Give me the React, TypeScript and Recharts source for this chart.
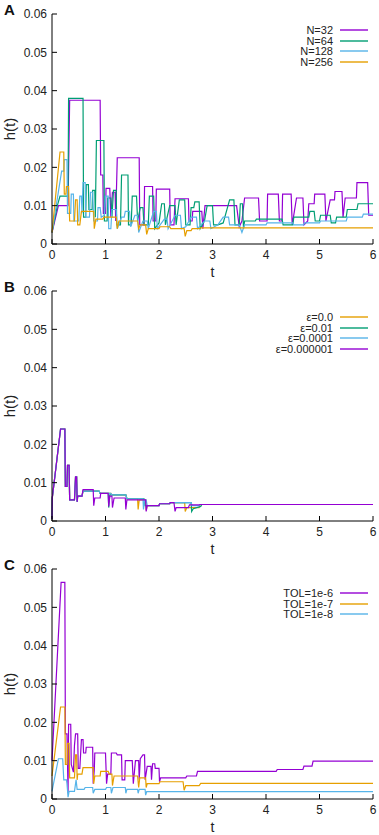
import React from "react";
import { LineChart, Line, XAxis, YAxis } from "recharts";

type Pt = [number, number];

const xTicks = [0, 1, 2, 3, 4, 5, 6];
const yTicks = [0, 0.01, 0.02, 0.03, 0.04, 0.05, 0.06];

// panel A: grid size N
const nLabels = ["N=32", "N=64", "N=128", "N=256"];
const n32: Pt[] = [
  [0, 0.003], [0.12, 0.01], [0.3, 0.01], [0.33, 0.0375], [0.9, 0.0375], [0.91, 0.018], [0.95, 0.018],
  [0.96, 0.008], [1.0, 0.008], [1.01, 0.0145], [1.08, 0.0145], [1.1, 0.007], [1.13, 0.0135], [1.18, 0.0135],
  [1.19, 0.006], [1.22, 0.0225], [1.63, 0.0225], [1.64, 0.005], [1.72, 0.005], [1.73, 0.015], [1.88, 0.015],
  [1.89, 0.006], [1.94, 0.006], [1.95, 0.0143], [2.2, 0.0143], [2.21, 0.005], [2.28, 0.005], [2.3, 0.0118],
  [2.55, 0.0118], [2.56, 0.006], [2.62, 0.006], [2.63, 0.0085], [2.8, 0.0085], [2.82, 0.004], [2.86, 0.01],
  [3.45, 0.01], [3.5, 0.0045], [3.55, 0.006], [3.6, 0.012], [3.86, 0.012], [3.88, 0.006], [4.02, 0.006],
  [4.03, 0.013], [4.23, 0.013], [4.25, 0.006], [4.3, 0.006], [4.31, 0.013], [4.47, 0.013], [4.49, 0.005],
  [4.57, 0.012], [4.69, 0.012], [4.71, 0.005], [4.78, 0.006], [4.8, 0.0105], [4.9, 0.0105], [4.91, 0.013],
  [5.1, 0.013], [5.12, 0.006], [5.2, 0.0115], [5.28, 0.0115], [5.29, 0.0137], [5.42, 0.0137], [5.44, 0.007],
  [5.48, 0.012], [5.69, 0.012], [5.7, 0.016], [5.9, 0.016], [5.92, 0.0075], [6, 0.0075],
];
const n64: Pt[] = [
  [0, 0.003], [0.1, 0.01], [0.15, 0.0125], [0.3, 0.0125], [0.31, 0.038], [0.58, 0.038], [0.59, 0.007],
  [0.63, 0.007], [0.64, 0.0155], [0.68, 0.0155], [0.69, 0.009], [0.75, 0.009], [0.76, 0.014], [0.8, 0.014],
  [0.81, 0.007], [0.83, 0.027], [0.97, 0.027], [0.98, 0.006], [1.03, 0.006], [1.04, 0.012], [1.1, 0.012],
  [1.12, 0.007], [1.15, 0.014], [1.2, 0.014], [1.21, 0.005], [1.28, 0.005], [1.3, 0.018], [1.42, 0.018],
  [1.43, 0.005], [1.48, 0.005], [1.5, 0.0125], [1.58, 0.0125], [1.6, 0.006], [1.65, 0.0095], [1.7, 0.0095],
  [1.72, 0.005], [1.8, 0.005], [1.82, 0.0125], [1.9, 0.0125], [1.92, 0.004], [2.0, 0.0055], [2.05, 0.0105],
  [2.1, 0.0105], [2.12, 0.005], [2.2, 0.01], [2.3, 0.01], [2.32, 0.005], [2.38, 0.0115], [2.48, 0.0115],
  [2.5, 0.005], [2.58, 0.005], [2.6, 0.0095], [2.65, 0.0095], [2.67, 0.011], [2.75, 0.011], [2.77, 0.004],
  [2.85, 0.006], [2.9, 0.01], [3.0, 0.01], [3.02, 0.005], [3.1, 0.005], [3.2, 0.0055], [3.32, 0.0115],
  [3.4, 0.0115], [3.42, 0.005], [3.5, 0.005], [3.52, 0.0105], [3.56, 0.0105], [3.58, 0.004], [3.6, 0.006],
  [3.8, 0.006], [3.82, 0.0065], [4.3, 0.0065], [4.32, 0.005], [4.5, 0.005], [4.52, 0.007], [4.8, 0.007],
  [4.82, 0.0085], [4.9, 0.0085], [4.92, 0.006], [5.0, 0.006], [5.02, 0.0075], [5.2, 0.0075], [5.22, 0.0055],
  [5.3, 0.0055], [5.32, 0.007], [5.5, 0.007], [5.52, 0.009], [5.7, 0.009], [5.72, 0.0105], [6, 0.0105],
];
const n128: Pt[] = [
  [0, 0.003], [0.18, 0.019], [0.22, 0.019], [0.23, 0.022], [0.28, 0.022], [0.29, 0.008], [0.35, 0.008],
  [0.36, 0.013], [0.4, 0.013], [0.41, 0.006], [0.5, 0.006], [0.52, 0.0125], [0.55, 0.0125], [0.56, 0.008],
  [0.58, 0.016], [0.62, 0.016], [0.63, 0.007], [0.7, 0.007], [0.72, 0.0135], [0.76, 0.0135], [0.78, 0.006],
  [0.85, 0.006], [0.86, 0.0095], [0.9, 0.0095], [0.92, 0.007], [0.98, 0.0075], [1.0, 0.0125], [1.05, 0.0125],
  [1.06, 0.004], [1.1, 0.004], [1.12, 0.009], [1.2, 0.009], [1.22, 0.004], [1.3, 0.007], [1.35, 0.007],
  [1.37, 0.0085], [1.45, 0.0085], [1.47, 0.0045], [1.55, 0.0075], [1.6, 0.0075], [1.62, 0.003], [1.7, 0.006],
  [1.78, 0.006], [1.8, 0.004], [1.9, 0.0085], [1.95, 0.0085], [1.97, 0.004], [2.1, 0.0065], [2.15, 0.0065],
  [2.17, 0.004], [2.3, 0.0075], [2.4, 0.0075], [2.42, 0.004], [2.5, 0.0045], [2.6, 0.007], [2.7, 0.007],
  [2.72, 0.004], [2.85, 0.006], [2.95, 0.006], [2.97, 0.004], [3.1, 0.005], [3.2, 0.007], [3.3, 0.007],
  [3.32, 0.005], [3.5, 0.005], [3.55, 0.003], [3.6, 0.005], [4.0, 0.005], [4.02, 0.0055], [4.5, 0.0055],
  [4.52, 0.005], [4.7, 0.005], [4.72, 0.0055], [5.0, 0.0055], [5.02, 0.006], [5.5, 0.006], [5.52, 0.007],
  [5.8, 0.007], [5.82, 0.0078], [6, 0.0078],
];
const n256: Pt[] = [
  [0, 0.003], [0.15, 0.024], [0.22, 0.024], [0.23, 0.013], [0.26, 0.013], [0.27, 0.015], [0.31, 0.015],
  [0.33, 0.006], [0.42, 0.006], [0.44, 0.0115], [0.47, 0.0115], [0.48, 0.005], [0.52, 0.005], [0.55, 0.0085],
  [0.78, 0.0085], [0.79, 0.004], [0.82, 0.0065], [0.95, 0.0065], [0.97, 0.007], [1.2, 0.007], [1.22, 0.004],
  [1.25, 0.006], [1.6, 0.006], [1.62, 0.004], [1.65, 0.005], [1.75, 0.005], [1.77, 0.0025], [1.8, 0.004],
  [2.0, 0.004], [2.02, 0.0045], [2.2, 0.0045], [2.22, 0.004], [2.47, 0.004], [2.49, 0.002], [2.52, 0.0035],
  [2.6, 0.0035], [2.62, 0.004], [2.75, 0.004], [2.78, 0.0042], [6, 0.0042],
];

// panel B: epsilon
const epsLabels = ["\u03b5=0.0", "\u03b5=0.01", "\u03b5=0.0001", "\u03b5=0.000001"];
const epsStart: Pt[] = [
  [0, 0.0005], [0.005, 0.006], [0.16, 0.024], [0.24, 0.024], [0.25, 0.009], [0.28, 0.009], [0.29, 0.0145],
  [0.32, 0.0145], [0.33, 0.0055], [0.42, 0.0055], [0.44, 0.0115], [0.46, 0.0115], [0.47, 0.005],
  [0.48, 0.0065], [0.56, 0.0065],
];
const eps0: Pt[] = [
  ...epsStart, [0.58, 0.0078], [0.88, 0.0078], [0.9, 0.0072], [1.1, 0.0072], [1.12, 0.0068], [1.38, 0.0068],
  [1.4, 0.0058], [1.6, 0.0058], [1.61, 0.003], [1.63, 0.0055], [1.75, 0.0055], [1.76, 0.0028], [1.78, 0.004],
  [2.0, 0.004], [2.01, 0.0045], [2.2, 0.0045], [2.21, 0.0048], [2.48, 0.0048], [2.49, 0.0025], [2.52, 0.0035],
  [2.75, 0.0035], [2.77, 0.0043], [6, 0.0043],
];
const eps2: Pt[] = [
  ...epsStart, [0.58, 0.0078], [0.88, 0.0078], [0.9, 0.0072], [1.05, 0.0072], [1.06, 0.0035], [1.08, 0.0068],
  [1.38, 0.0068], [1.4, 0.0058], [1.72, 0.0058], [1.74, 0.004], [2.0, 0.004], [2.01, 0.0045], [2.2, 0.0045],
  [2.21, 0.0048], [2.6, 0.0048], [2.61, 0.0025], [2.64, 0.0032], [2.78, 0.0038], [2.8, 0.0043], [6, 0.0043],
];
const eps4: Pt[] = [
  ...epsStart, [0.58, 0.0078], [0.88, 0.0078], [0.9, 0.0072], [1.1, 0.0072], [1.12, 0.0068], [1.38, 0.0068],
  [1.4, 0.0058], [1.7, 0.0058], [1.71, 0.003], [1.73, 0.0055], [1.76, 0.0055], [1.78, 0.004], [2.0, 0.004],
  [2.01, 0.0045], [2.2, 0.0045], [2.21, 0.0048], [2.6, 0.0048], [2.62, 0.004], [2.75, 0.004], [2.77, 0.0043],
  [6, 0.0043],
];
const eps6: Pt[] = [
  ...epsStart, [0.58, 0.0082], [0.77, 0.0082], [0.78, 0.004], [0.8, 0.006], [0.9, 0.006], [0.91, 0.0072],
  [1.05, 0.0072], [1.06, 0.0038], [1.08, 0.0065], [1.12, 0.0065], [1.13, 0.0035], [1.16, 0.006], [1.37, 0.006],
  [1.38, 0.003], [1.4, 0.0055], [1.75, 0.0055], [1.76, 0.0025], [1.78, 0.004], [2.0, 0.004], [2.01, 0.0045],
  [2.2, 0.0045], [2.21, 0.0048], [2.28, 0.0048], [2.3, 0.0025], [2.32, 0.0035], [2.55, 0.0035], [2.57, 0.0042],
  [2.75, 0.0042], [2.77, 0.0043], [6, 0.0043],
];

// panel C: tolerance
const tolLabels = ["TOL=1e-6", "TOL=1e-7", "TOL=1e-8"];
const tol6: Pt[] = [
  [0, 0.01], [0.17, 0.0565], [0.24, 0.0565], [0.25, 0.017], [0.28, 0.017], [0.3, 0.0015], [0.31, 0.0195],
  [0.35, 0.0195], [0.36, 0.009], [0.4, 0.007], [0.42, 0.014], [0.44, 0.017], [0.48, 0.017], [0.49, 0.008],
  [0.52, 0.008], [0.55, 0.0155], [0.58, 0.0155], [0.59, 0.012], [0.63, 0.012], [0.64, 0.0135], [0.76, 0.0135],
  [0.77, 0.004], [0.79, 0.0075], [0.8, 0.012], [1.0, 0.012], [1.02, 0.004], [1.04, 0.0065], [1.1, 0.0065],
  [1.11, 0.012], [1.2, 0.012], [1.22, 0.0115], [1.3, 0.0115], [1.31, 0.005], [1.36, 0.005], [1.37, 0.01],
  [1.5, 0.01], [1.52, 0.004], [1.56, 0.01], [1.62, 0.01], [1.63, 0.005], [1.65, 0.0105], [1.7, 0.0115],
  [1.73, 0.0115], [1.74, 0.005], [1.78, 0.0085], [1.85, 0.0085], [1.86, 0.005], [1.88, 0.0092], [1.92, 0.0092],
  [1.93, 0.008], [2.0, 0.008], [2.01, 0.0045], [2.03, 0.0055], [2.5, 0.0055], [2.52, 0.006], [2.7, 0.006],
  [2.72, 0.0072], [4.19, 0.0072], [4.21, 0.0077], [4.69, 0.0077], [4.71, 0.0086], [4.86, 0.0086],
  [4.88, 0.0099], [6, 0.0099],
];
const tol7: Pt[] = [
  [0, 0.006], [0.16, 0.024], [0.24, 0.024], [0.25, 0.009], [0.28, 0.009], [0.29, 0.0145], [0.32, 0.0145],
  [0.33, 0.0055], [0.42, 0.0055], [0.44, 0.0115], [0.46, 0.0115], [0.47, 0.005], [0.48, 0.0065], [0.56, 0.0065],
  [0.58, 0.0082], [0.77, 0.0082], [0.78, 0.004], [0.8, 0.006], [0.9, 0.006], [0.91, 0.0072], [1.05, 0.0072],
  [1.07, 0.0065], [1.12, 0.0065], [1.13, 0.0035], [1.16, 0.006], [1.6, 0.006], [1.62, 0.003], [1.64, 0.0055],
  [1.75, 0.0055], [1.76, 0.003], [1.78, 0.004], [2.0, 0.004], [2.02, 0.0045], [2.45, 0.0045], [2.47, 0.0023],
  [2.5, 0.0035], [2.75, 0.0035], [2.78, 0.0041], [6, 0.0041],
];
const tol8: Pt[] = [
  [0, 0.002], [0.12, 0.0105], [0.2, 0.0105], [0.22, 0.005], [0.27, 0.005], [0.28, 0.004], [0.3, 0.0005],
  [0.32, 0.002], [0.42, 0.002], [0.45, 0.005], [0.47, 0.0025], [0.6, 0.0025], [0.62, 0.003], [0.76, 0.003],
  [0.77, 0.0015], [0.8, 0.0025], [1.0, 0.0025], [1.02, 0.003], [1.1, 0.003], [1.11, 0.0015], [1.14, 0.003],
  [1.37, 0.003], [1.38, 0.0015], [1.4, 0.0025], [1.6, 0.0025], [1.61, 0.0015], [1.63, 0.0025], [1.74, 0.0025],
  [1.75, 0.001], [1.77, 0.0019], [6, 0.0019],
];

const PURPLE = "#9400d3";
const GREEN = "#009e73";
const BLUE = "#56b4e9";
const ORANGE = "#e69f00";
const FONT = '"Liberation Sans", Arial, Helvetica, sans-serif';

type Series = { name: string; color: string; points: Pt[] };

const toRows = (pts: Pt[]) => pts.map(([t, h]) => ({ t, h }));

function Panel({
  letter,
  top,
  series,
  legendTop,
}: {
  letter: string;
  top: number;
  series: Series[];
  legendTop: number;
}) {
  return (
    <div style={{ position: "absolute", left: 0, top, width: 379, height: 280 }}>
      <LineChart width={379} height={280} margin={{ top: 14, right: 6, bottom: 6, left: 0 }}>
        <XAxis
          xAxisId="b"
          dataKey="t"
          type="number"
          domain={[0, 6]}
          ticks={xTicks}
          height={30}
          stroke="#000"
          tickSize={-5}
          tickMargin={11}
          tick={{ fill: "#222", fontSize: 12, fontFamily: FONT }}
          label={({ viewBox }: any) => (
            <text
              x={viewBox.x + viewBox.width / 2}
              y={viewBox.y + 33}
              textAnchor="middle"
              fontSize={14}
              fontFamily={FONT}
              fill="#222"
            >
              t
            </text>
          )}
        />
        <XAxis
          xAxisId="top"
          orientation="top"
          type="number"
          domain={[0, 6]}
          ticks={xTicks}
          height={0}
          stroke="#000"
          tickSize={-5}
          tick={false}
        />
        <YAxis
          yAxisId="l"
          type="number"
          domain={[0, 0.06]}
          ticks={yTicks}
          width={52}
          stroke="#000"
          tickSize={-5}
          tickMargin={10}
          tickFormatter={(v: number) => (v === 0 ? "0" : v.toFixed(2))}
          tick={{ fill: "#222", fontSize: 12, fontFamily: FONT }}
          label={({ viewBox }: any) => {
            const cx = viewBox.x + 9;
            const cy = viewBox.y + viewBox.height / 2;
            return (
              <text
                x={cx}
                y={cy}
                transform={`rotate(-90 ${cx} ${cy})`}
                textAnchor="middle"
                dominantBaseline="central"
                fontSize={15}
                fontFamily={FONT}
                fill="#222"
              >
                h(t)
              </text>
            );
          }}
        />
        <YAxis
          yAxisId="r"
          orientation="right"
          type="number"
          domain={[0, 0.06]}
          ticks={yTicks}
          width={0}
          stroke="#000"
          tickSize={-5}
          tick={false}
        />
        {series.map((s) => (
          <Line
            key={s.name}
            xAxisId="b"
            yAxisId="l"
            data={toRows(s.points)}
            dataKey="h"
            type="linear"
            stroke={s.color}
            strokeWidth={1.2}
            dot={false}
            activeDot={false}
            isAnimationActive={false}
          />
        ))}
      </LineChart>
      <div
        style={{
          position: "absolute",
          left: 4,
          top: 1,
          fontFamily: FONT,
          fontWeight: "bold",
          fontSize: 15,
          color: "#111",
        }}
      >
        {letter}
      </div>
      <div style={{ position: "absolute", right: 11, top: legendTop, fontFamily: FONT, fontSize: 11, color: "#222" }}>
        {series.map((s) => (
          <div key={s.name} style={{ display: "flex", justifyContent: "flex-end", alignItems: "center", height: 10.5 }}>
            <span style={{ marginRight: 7, lineHeight: "10.5px" }}>{s.name}</span>
            <svg width={28} height={4}>
              <line x1={0} y1={2} x2={28} y2={2} stroke={s.color} strokeWidth={1.4} />
            </svg>
          </div>
        ))}
      </div>
    </div>
  );
}

export default function App() {
  const panelA: Series[] = [
    { name: nLabels[0], color: PURPLE, points: n32 },
    { name: nLabels[1], color: GREEN, points: n64 },
    { name: nLabels[2], color: BLUE, points: n128 },
    { name: nLabels[3], color: ORANGE, points: n256 },
  ];
  const panelB: Series[] = [
    { name: epsLabels[0], color: ORANGE, points: eps0 },
    { name: epsLabels[1], color: GREEN, points: eps2 },
    { name: epsLabels[2], color: BLUE, points: eps4 },
    { name: epsLabels[3], color: PURPLE, points: eps6 },
  ];
  const panelC: Series[] = [
    { name: tolLabels[0], color: PURPLE, points: tol6 },
    { name: tolLabels[1], color: ORANGE, points: tol7 },
    { name: tolLabels[2], color: BLUE, points: tol8 },
  ];
  return (
    <div style={{ position: "absolute", left: 0, top: 0, width: 379, height: 835, background: "#fff" }}>
      <Panel letter="A" top={0} series={panelA} legendTop={25} />
      <Panel letter="B" top={277} series={panelB} legendTop={35} />
      <Panel letter="C" top={555} series={panelC} legendTop={33} />
    </div>
  );
}
